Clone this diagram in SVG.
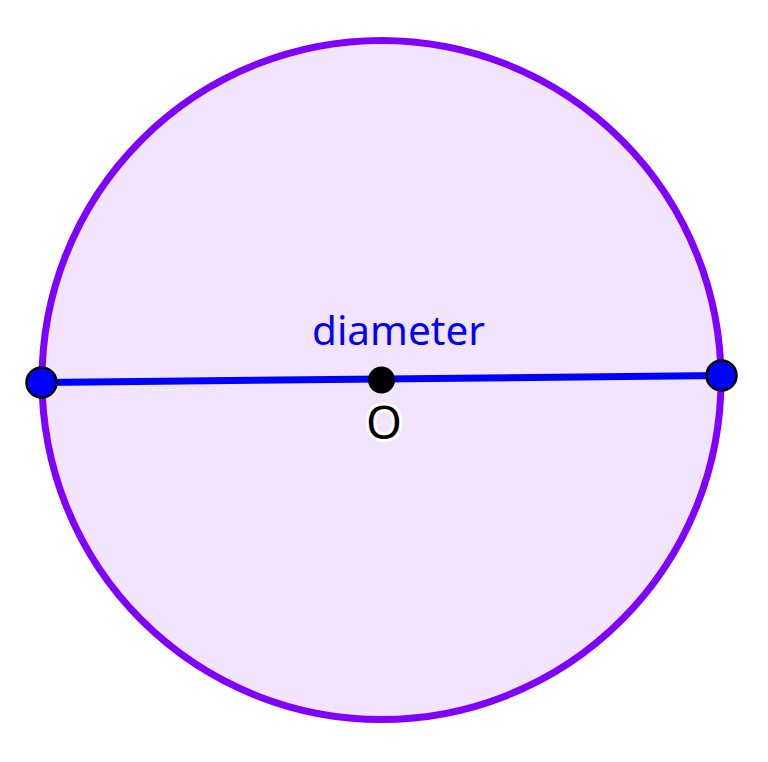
<svg xmlns="http://www.w3.org/2000/svg" width="768" height="762" viewBox="0 0 768 762">
<style>
.pt{fill:#0000ff;stroke:#000;stroke-width:2.5}
.lbl{font-family:"Noto Sans","Open Sans",sans-serif}
</style>
<rect width="768" height="762" fill="#fff"/>
<g id="circle">
<circle cx="381.5" cy="380" r="339.5" fill="#f1e4fc" stroke="#7f00ff" stroke-width="7"/>
</g>
<g id="connectors">
<line x1="41.5" y1="382.5" x2="721.5" y2="375.5" stroke="#0000ff" stroke-width="7"/>
</g>
<g id="A"><circle class="pt" cx="41.5" cy="382.5" r="15"/></g>
<g id="B"><circle class="pt" cx="721.5" cy="375.5" r="15"/></g>
<g id="O">
<circle cx="381.5" cy="380" r="13.5" fill="#000"/>
<text class="lbl" x="384" y="439" font-size="46" text-anchor="middle" fill="#000" stroke="#fff" stroke-width="6" paint-order="stroke" stroke-linejoin="round">O</text>
</g>
<g id="label">
<text class="lbl" x="398.5" y="345" font-size="40.5" text-anchor="middle" fill="#0000ff">diameter</text>
</g>
</svg>
